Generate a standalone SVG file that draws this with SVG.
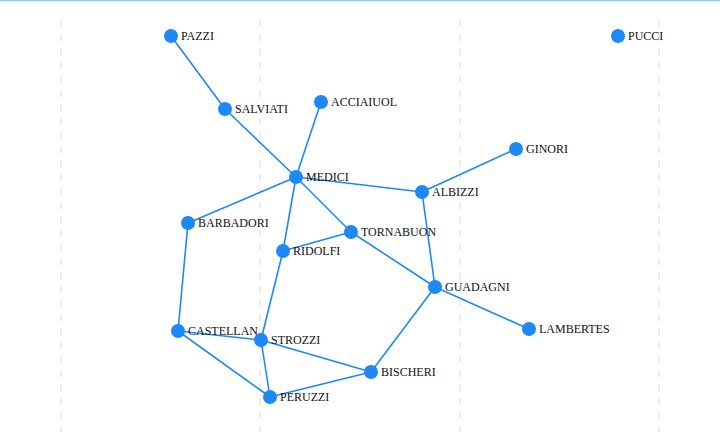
<svg xmlns="http://www.w3.org/2000/svg" width="720" height="432" viewBox="0 0 720 432">
<style>
.grid{stroke:#e8e8e8;stroke-width:1.5;stroke-dasharray:7 7}
.e{stroke:#1e88f5;stroke-width:1.6;fill:none}
.n circle{fill:#1e88f5}
.n text{font-family:"Liberation Serif","Times New Roman",serif;font-size:12px;fill:#111}
</style>
<rect x="0" y="0" width="720" height="432" fill="#fff"/>
<line x1="0" y1="0.5" x2="720" y2="0.5" stroke="#8ecbf0" stroke-width="1.5"/>
<g id="grid">
<line class="grid" x1="61" y1="20" x2="61" y2="432"/>
<line class="grid" x1="260" y1="20" x2="260" y2="432"/>
<line class="grid" x1="460" y1="20" x2="460" y2="432"/>
<line class="grid" x1="659" y1="20" x2="659" y2="432"/>
</g>
<g id="edges">
<line class="e" x1="171" y1="36" x2="225" y2="109"/>
<line class="e" x1="225" y1="109" x2="296" y2="177"/>
<line class="e" x1="321" y1="102" x2="296" y2="177"/>
<line class="e" x1="296" y1="177" x2="188" y2="223"/>
<line class="e" x1="296" y1="177" x2="422" y2="192"/>
<line class="e" x1="296" y1="177" x2="283" y2="251"/>
<line class="e" x1="296" y1="177" x2="351" y2="232"/>
<line class="e" x1="422" y1="192" x2="516" y2="149"/>
<line class="e" x1="422" y1="192" x2="435" y2="287"/>
<line class="e" x1="351" y1="232" x2="283" y2="251"/>
<line class="e" x1="351" y1="232" x2="435" y2="287"/>
<line class="e" x1="435" y1="287" x2="529" y2="329"/>
<line class="e" x1="435" y1="287" x2="371" y2="372"/>
<line class="e" x1="188" y1="223" x2="178" y2="331"/>
<line class="e" x1="283" y1="251" x2="261" y2="340"/>
<line class="e" x1="178" y1="331" x2="261" y2="340"/>
<line class="e" x1="178" y1="331" x2="270" y2="397"/>
<line class="e" x1="261" y1="340" x2="270" y2="397"/>
<line class="e" x1="261" y1="340" x2="371" y2="372"/>
<line class="e" x1="371" y1="372" x2="270" y2="397"/>
</g>
<g id="PAZZI" class="n"><circle cx="171" cy="36" r="7"/><text x="181" y="40">PAZZI</text></g>
<g id="SALVIATI" class="n"><circle cx="225" cy="109" r="7"/><text x="235" y="113">SALVIATI</text></g>
<g id="ACCIAIUOL" class="n"><circle cx="321" cy="102" r="7"/><text x="331" y="106">ACCIAIUOL</text></g>
<g id="MEDICI" class="n"><circle cx="296" cy="177" r="7"/><text x="306" y="181">MEDICI</text></g>
<g id="ALBIZZI" class="n"><circle cx="422" cy="192" r="7"/><text x="432" y="196">ALBIZZI</text></g>
<g id="GINORI" class="n"><circle cx="516" cy="149" r="7"/><text x="526" y="153">GINORI</text></g>
<g id="BARBADORI" class="n"><circle cx="188" cy="223" r="7"/><text x="198" y="227">BARBADORI</text></g>
<g id="TORNABUON" class="n"><circle cx="351" cy="232" r="7"/><text x="361" y="236">TORNABUON</text></g>
<g id="RIDOLFI" class="n"><circle cx="283" cy="251" r="7"/><text x="293" y="255">RIDOLFI</text></g>
<g id="GUADAGNI" class="n"><circle cx="435" cy="287" r="7"/><text x="445" y="291">GUADAGNI</text></g>
<g id="LAMBERTES" class="n"><circle cx="529" cy="329" r="7"/><text x="539" y="333">LAMBERTES</text></g>
<g id="CASTELLAN" class="n"><circle cx="178" cy="331" r="7"/><text x="188" y="335">CASTELLAN</text></g>
<g id="STROZZI" class="n"><circle cx="261" cy="340" r="7"/><text x="271" y="344">STROZZI</text></g>
<g id="BISCHERI" class="n"><circle cx="371" cy="372" r="7"/><text x="381" y="376">BISCHERI</text></g>
<g id="PERUZZI" class="n"><circle cx="270" cy="397" r="7"/><text x="280" y="401">PERUZZI</text></g>
<g id="PUCCI" class="n"><circle cx="618" cy="36" r="7"/><text x="628" y="40">PUCCI</text></g>
</svg>
